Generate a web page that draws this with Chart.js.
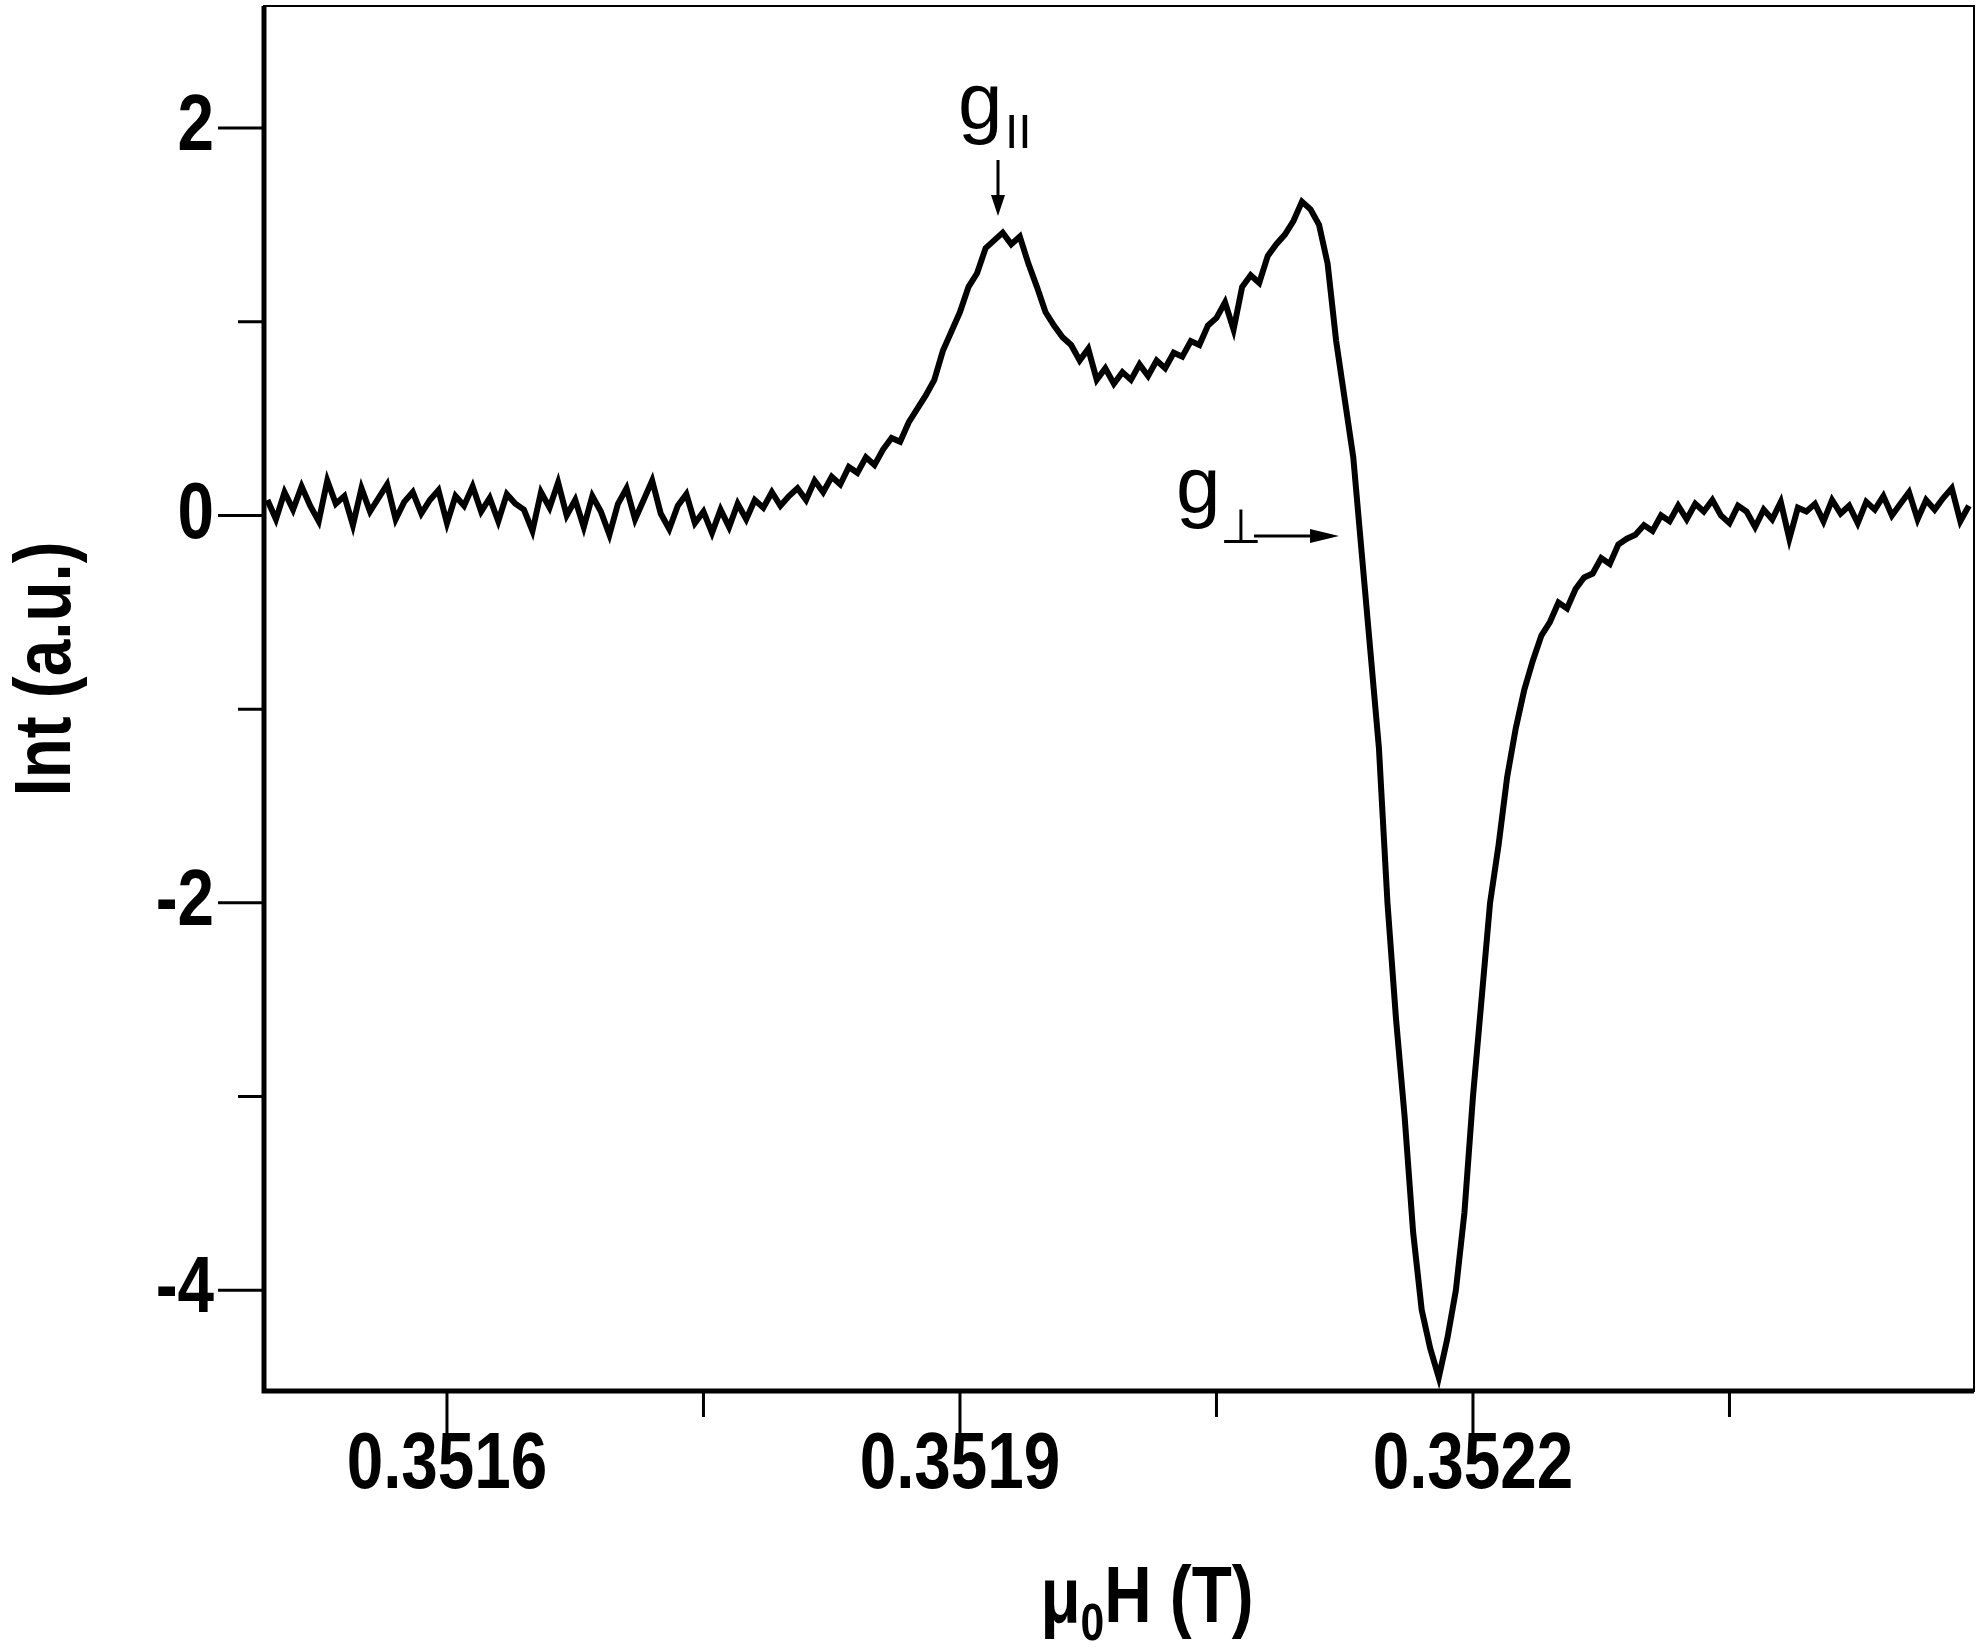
<!DOCTYPE html>
<html>
<head>
<meta charset="utf-8">
<script src="https://cdn.jsdelivr.net/npm/chart.js@4"></script>
<style>
  body { margin: 0; background: #fff; }
  #wrap { width: 1983px; height: 1650px; }
</style>
</head>
<body>
<div id="wrap"><canvas id="eprChart"></canvas></div>
<script>
// field axis: first point and spacing (T)
const fieldStart = 0.351495;
const fieldStep = 0.000005;

// intensity (a.u.)
const intensity = [
  0.08, -0.02, 0.12, 0.03, 0.15, 0.05, -0.03, 0.18, 0.06, 0.10,
  -0.05, 0.14, 0.02, 0.09, 0.16, -0.02, 0.07, 0.12, 0.01, 0.08,
  0.13, -0.04, 0.10, 0.05, 0.15, 0.02, 0.09, -0.03, 0.11, 0.06,
  0.03, -0.08, 0.12, 0.04, 0.17, 0.00, 0.08, -0.06, 0.10, 0.02,
  -0.10, 0.06, 0.14, -0.02, 0.08, 0.18, 0.01, -0.07, 0.05, 0.11,
  -0.04, 0.02, -0.09, 0.03, -0.06, 0.06, -0.02, 0.08, 0.04, 0.12,
  0.05, 0.10, 0.14, 0.08, 0.18, 0.12, 0.20, 0.16, 0.25, 0.22,
  0.30, 0.26, 0.34, 0.40, 0.38, 0.48, 0.55, 0.62, 0.70, 0.85,
  0.95, 1.05, 1.18, 1.25, 1.38, 1.42, 1.46, 1.40, 1.44, 1.30,
  1.18, 1.05, 0.98, 0.92, 0.88, 0.80, 0.86, 0.70, 0.76, 0.68,
  0.74, 0.70, 0.78, 0.72, 0.80, 0.76, 0.84, 0.82, 0.90, 0.88,
  0.98, 1.02, 1.10, 0.96, 1.18, 1.24, 1.20, 1.34, 1.40, 1.45,
  1.52, 1.62, 1.58, 1.50, 1.30, 0.90, 0.60, 0.30, -0.20, -0.70,
  -1.20, -2.00, -2.60, -3.10, -3.70, -4.10, -4.30, -4.45, -4.25, -4.00,
  -3.60, -3.00, -2.50, -2.00, -1.70, -1.35, -1.10, -0.90, -0.75, -0.62,
  -0.55, -0.45, -0.48, -0.38, -0.32, -0.30, -0.22, -0.25, -0.15, -0.12,
  -0.10, -0.05, -0.08, 0.00, -0.03, 0.05, -0.02, 0.06, 0.02, 0.08,
  0.00, -0.04, 0.05, 0.02, -0.06, 0.03, -0.02, 0.07, -0.12, 0.04,
  0.02, 0.06, -0.03, 0.08, 0.01, 0.05, -0.04, 0.07, 0.03, 0.10,
  0.00, 0.06, 0.12, -0.02, 0.08, 0.03, 0.09, 0.14, -0.03, 0.05
];

const xMajor = [0.3516, 0.3519, 0.3522];
const xMinor = [0.35175, 0.35205, 0.35235];
const yMajor = [-4, -2, 0, 2];
const yMinor = [-3, -1, 1];

const points = intensity.map((v, i) => ({ x: fieldStart + fieldStep * i, y: v }));

const FONT = '"Liberation Sans", Arial, sans-serif';
const SQUEEZE = 0.82;

// draw text squeezed horizontally, like the narrow face of the original
function narrow(ctx, text, x, y, align) {
  ctx.save();
  ctx.translate(x, y);
  ctx.scale(SQUEEZE, 1);
  ctx.textAlign = align;
  ctx.fillText(text, 0, 0);
  ctx.restore();
}

const decor = {
  id: "decor",
  afterDraw(chart) {
    const { ctx, chartArea: a, scales: { x, y } } = chart;
    ctx.save();
    ctx.strokeStyle = "#000";
    ctx.fillStyle = "#000";
    // frame
    ctx.lineWidth = 2;
    ctx.strokeRect(a.left, a.top, a.right - a.left, a.bottom - a.top);
    ctx.lineWidth = 5;
    ctx.beginPath();
    ctx.moveTo(a.left, a.top); ctx.lineTo(a.left, a.bottom); ctx.lineTo(a.right, a.bottom);
    ctx.stroke();

    // ticks
    ctx.lineWidth = 3;
    ctx.beginPath();
    xMajor.forEach(v => { const p = x.getPixelForValue(v); ctx.moveTo(p, a.bottom); ctx.lineTo(p, a.bottom + 46); });
    xMinor.forEach(v => { const p = x.getPixelForValue(v); ctx.moveTo(p, a.bottom); ctx.lineTo(p, a.bottom + 26); });
    yMajor.forEach(v => { const p = y.getPixelForValue(v); ctx.moveTo(a.left, p); ctx.lineTo(a.left - 46, p); });
    yMinor.forEach(v => { const p = y.getPixelForValue(v); ctx.moveTo(a.left, p); ctx.lineTo(a.left - 26, p); });
    ctx.stroke();

    // tick labels
    ctx.font = "bold 80px " + FONT;
    ctx.textBaseline = "middle";
    xMajor.forEach(v => narrow(ctx, v.toFixed(4), x.getPixelForValue(v), a.bottom + 75, "center"));
    yMajor.forEach(v => narrow(ctx, String(v), a.left - 50, y.getPixelForValue(v), "right"));

    // axis titles
    ctx.textBaseline = "alphabetic";
    ctx.save();
    ctx.translate(1147, 0);
    ctx.scale(SQUEEZE, 1);
    const t1 = "\u03bc", t2 = "0", t3 = "H (T)";
    ctx.font = "bold 80px " + FONT;
    const w1 = ctx.measureText(t1).width, w3 = ctx.measureText(t3).width;
    ctx.font = "bold 52px " + FONT;
    const w2 = ctx.measureText(t2).width;
    const sx = -(w1 + w2 + w3) / 2;
    ctx.textAlign = "left";
    ctx.font = "bold 80px " + FONT; ctx.fillText(t1, sx, 1622);
    ctx.font = "bold 52px " + FONT; ctx.fillText(t2, sx + w1, 1640);
    ctx.font = "bold 80px " + FONT; ctx.fillText(t3, sx + w1 + w2, 1622);
    ctx.restore();

    ctx.save();
    ctx.translate(70, 669);
    ctx.rotate(-Math.PI / 2);
    ctx.font = "bold 80px " + FONT;
    narrow(ctx, "Int (a.u.)", 0, 0, "center");
    ctx.restore();

    // annotations
    ctx.font = "80px " + FONT;
    ctx.textAlign = "left";
    ctx.fillText("g", 958, 128);
    ctx.font = "48px " + FONT;
    ctx.fillText("II", 1005, 148);
    ctx.font = "80px " + FONT;
    ctx.fillText("g", 1176, 512);
    ctx.font = "48px " + FONT;
    ctx.fillText("\u22a5", 1220, 543);

    ctx.lineWidth = 3;
    ctx.beginPath();
    ctx.moveTo(998, 160); ctx.lineTo(998, 200);
    ctx.moveTo(1254, 536); ctx.lineTo(1315, 536);
    ctx.stroke();
    ctx.beginPath();
    ctx.moveTo(991, 195); ctx.lineTo(1005, 195); ctx.lineTo(998, 216); ctx.closePath();
    ctx.moveTo(1310, 529); ctx.lineTo(1310, 543); ctx.lineTo(1339, 536); ctx.closePath();
    ctx.fill();
    ctx.restore();
  }
};

new Chart(document.getElementById("eprChart"), {
  type: "line",
  data: {
    datasets: [{
      data: points,
      borderColor: "#000",
      borderWidth: 6,
      pointRadius: 0,
      tension: 0,
      fill: false
    }]
  },
  options: {
    responsive: true,
    maintainAspectRatio: false,
    animation: false,
    layout: { padding: { left: 264, right: 9, top: 6, bottom: 259 } },
    plugins: { legend: { display: false }, tooltip: { enabled: false } },
    scales: {
      x: { type: "linear", min: 0.351493, max: 0.352493, display: false },
      y: { min: -4.52, max: 2.63, display: false }
    }
  },
  plugins: [decor]
});
</script>
</body>
</html>
